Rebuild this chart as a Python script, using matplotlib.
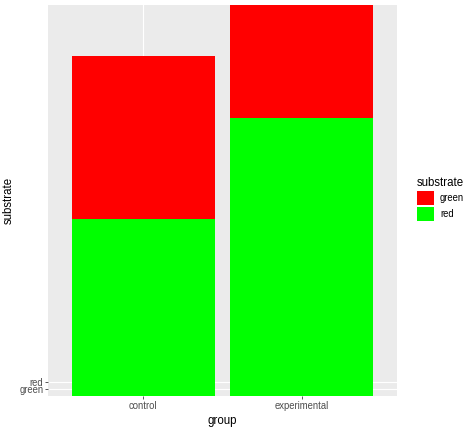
import matplotlib
matplotlib.use("Agg")
import matplotlib.pyplot as plt
from matplotlib.patches import Patch

plt.rcParams['font.family'] = ['Liberation Sans', 'DejaVu Sans']

groups = ["control", "experimental"]
# stacked segments (values as drawn on the discrete-coded y axis)
level_red = [25.4, 39.8]     # fill level "red" (drawn green), bottom
level_green = [23.3, 16.2]   # fill level "green" (drawn red), top
y_tick_labels = ["green", "red"]
y_tick_pos = [1, 2]
legend_labels = ["green", "red"]
fill_colors = {"green": "#FF0000", "red": "#00FF00"}

W, H, DPI = 474, 430, 72
fig = plt.figure(figsize=(W / DPI, H / DPI), dpi=DPI)
ax = fig.add_axes([48 / W, 1 - 396 / H, (397 - 48) / W, (396 - 5) / H])
ax.set_facecolor("#EBEBEB")

x = list(range(len(groups)))
ax.bar(x, level_red, width=0.9, color=fill_colors["red"], zorder=3)
ax.bar(x, level_green, width=0.9, bottom=level_red, color=fill_colors["green"], zorder=3)

top = max(a + b for a, b in zip(level_red, level_green))
ax.set_xlim(-0.6, len(groups) - 0.4)
ax.set_ylim(0, top)
ax.set_xticks(x)
ax.set_xticklabels(groups)
ax.set_yticks(y_tick_pos)
ax.set_yticklabels(y_tick_labels)
ax.grid(True, color="white", linewidth=1.1, zorder=0)
ax.set_axisbelow(True)
for s in ax.spines.values():
    s.set_visible(False)
ax.tick_params(axis="both", length=2.75, width=0.8, color="#333333",
               labelcolor="#4D4D4D", labelsize=9.5, pad=2)
ax.set_xlabel("group", fontsize=11.5, labelpad=4)
ax.set_ylabel("substrate", fontsize=11.5, labelpad=4)

handles = [Patch(facecolor=fill_colors[l], edgecolor="none") for l in legend_labels]
leg = fig.legend(handles, legend_labels, title="substrate", loc="upper left",
                 bbox_to_anchor=(413 / W, 1 - 173 / H), frameon=False,
                 fontsize=9.5, title_fontsize=11.5, handlelength=1.85,
                 handleheight=1.85, handletextpad=0.6, labelspacing=0.25,
                 borderaxespad=0)
leg._legend_box.align = "left"

fig.savefig("out.png", dpi=DPI)
